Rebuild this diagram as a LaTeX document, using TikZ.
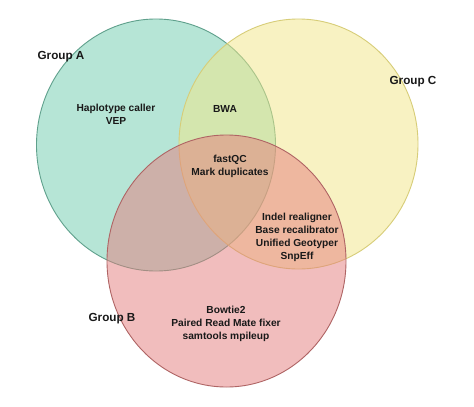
\documentclass[tikz,border=0pt]{standalone}
\usepackage{fontspec}
\setmainfont{Liberation Sans}
\begin{document}
\begin{tikzpicture}[x=1pt,y=-1pt,
  setA/.style={fill={rgb,255:red,111;green,205;blue,175},fill opacity=0.5,draw={rgb,255:red,95;green,160;blue,140},line width=0.9pt},
  setC/.style={fill={rgb,255:red,243;green,231;blue,135},fill opacity=0.5,draw={rgb,255:red,215;green,205;blue,120},line width=0.9pt},
  setB/.style={fill={rgb,255:red,229;green,125;blue,125},fill opacity=0.5,draw={rgb,255:red,175;green,100;blue,100},line width=0.9pt},
  item/.style={align=center,text={rgb,255:red,25;green,25;blue,25},font=\bfseries\fontsize{10.2}{12.8}\selectfont,inner sep=0pt},
  glabel/.style={text={rgb,255:red,25;green,25;blue,25},font=\bfseries\fontsize{11.7}{14}\selectfont,inner sep=0pt}]
\useasboundingbox[fill=white] (0,0) rectangle (474,407);
\path[setA] (156,145) ellipse [x radius=119.5, y radius=126];
\path[setC] (298.5,144) ellipse [x radius=119.5, y radius=125];
\path[setB] (226.5,261) ellipse [x radius=119.5, y radius=126];
\node[glabel] (ga) at (61,57) {Group A};
\node[glabel] (gc) at (413,82) {Group C};
\node[glabel] (gb) at (112,319) {Group B};
\node[item] (a) at (116,114) {Haplotype caller\\VEP};
\node[item] (ac) at (225,109) {BWA};
\node[item] (abc) at (230,166.5) {fastQC\\Mark duplicates};
\node[item] (bc) at (297,237.5) {Indel realigner\\Base recalibrator\\Unified Geotyper\\SnpEff};
\node[item] (b) at (226,324) {Bowtie2\\Paired Read Mate fixer\\samtools mpileup};
\end{tikzpicture}
\end{document}
